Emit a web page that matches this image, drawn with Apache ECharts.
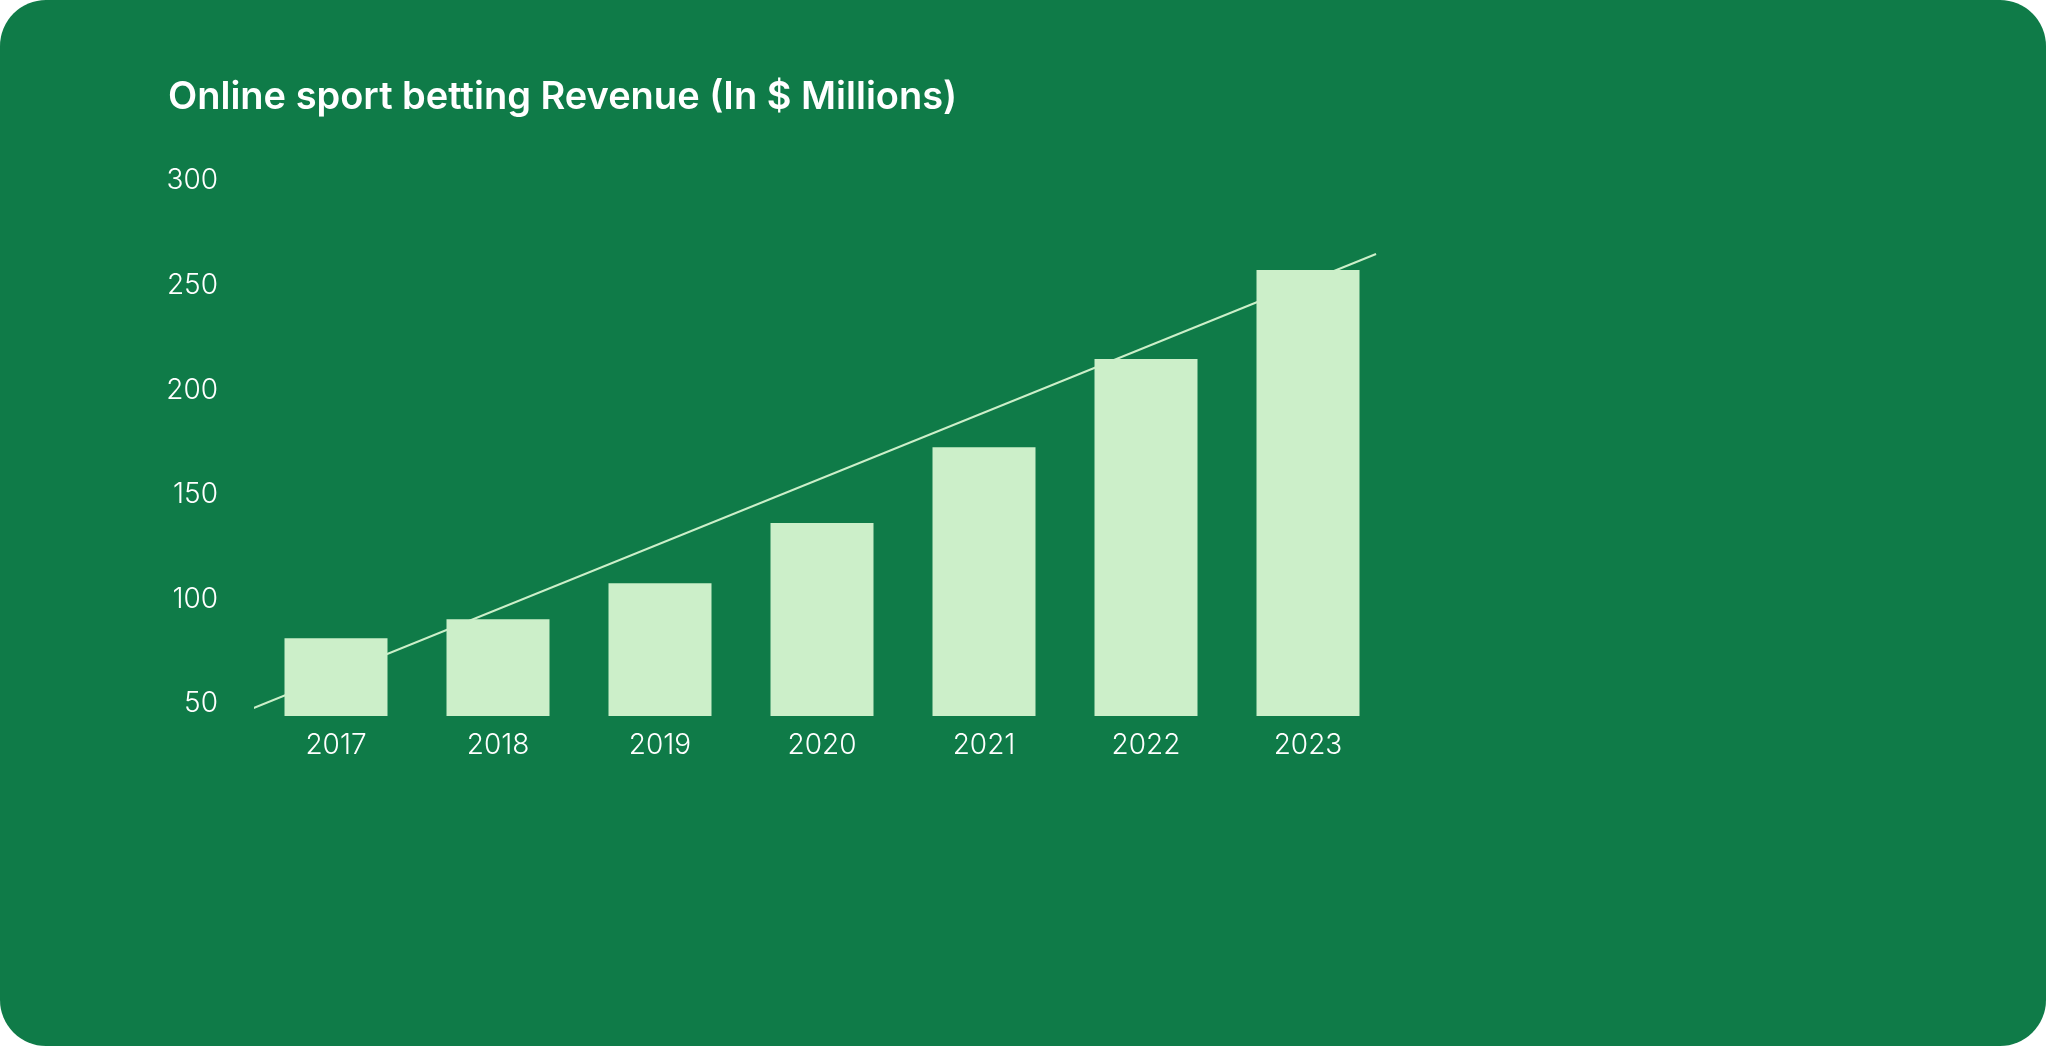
<!DOCTYPE html>
<html>
<head>
<meta charset="utf-8">
<script src="https://cdn.jsdelivr.net/npm/echarts@6/dist/echarts.min.js"></script>
<style>
  html, body { margin: 0; padding: 0; background: #ffffff; }
  #card { position: absolute; left: 0; top: 0; width: 2046px; height: 1046px; background: #0f7b48; border-radius: 46px; }
  #chart { width: 2048px; height: 1048px; position: absolute; left: 0; top: 0; }
</style>
</head>
<body>
<div id="card"></div>
<div id="chart"></div>
<script>
const years = ["2017", "2018", "2019", "2020", "2021", "2022", "2023"];
const revenue = [81.5, 90.6, 107.8, 136.5, 172.8, 214.9, 257.5];
const yTicks = [50, 100, 150, 200, 250, 300];
// trend line end points in band units along the category axis
const trendLine = [[-0.13, 44.3], [6.92, 265.1]];

let myChart = echarts.init(document.getElementById("chart"));
const LIGHT = "#ccefc9";

let option = {
  backgroundColor: "transparent",
  textStyle: { fontFamily: "Inter" },
  title: {
    text: "Online sport betting Revenue (In $ Millions)",
    left: 163,
    top: 74,
    textStyle: { color: "#ffffff", fontSize: 38, fontWeight: 600, fontFamily: "Inter" },
  },
  grid: { left: 255, width: 1134, top: 181, bottom: 332 },
  xAxis: [
    {
      type: "category",
      data: years,
      axisLine: { show: false },
      axisTick: { show: false },
      axisLabel: { color: "#ffffff", fontSize: 28, fontWeight: 300, margin: 16 },
    },
    {
      type: "value",
      min: 0,
      max: 7,
      show: false,
    },
  ],
  yAxis: {
    type: "value",
    min: 44.3,
    max: 300,
    splitLine: { show: false },
    axisLine: { show: false },
    axisTick: { show: false },
    axisLabel: {
      color: "#ffffff",
      fontSize: 28,
      fontWeight: 300,
      margin: 37,
      customValues: yTicks,
    },
  },
  series: [
    {
      type: "bar",
      data: revenue,
      barWidth: 103,
      itemStyle: { color: LIGHT },
    },
    {
      type: "line",
      xAxisIndex: 1,
      data: trendLine,
      symbol: "none",
      clip: false,
      lineStyle: { color: LIGHT, width: 2 },
      z: 1,
    },
  ],
};

option && myChart.setOption(option);
</script>
</body>
</html>
